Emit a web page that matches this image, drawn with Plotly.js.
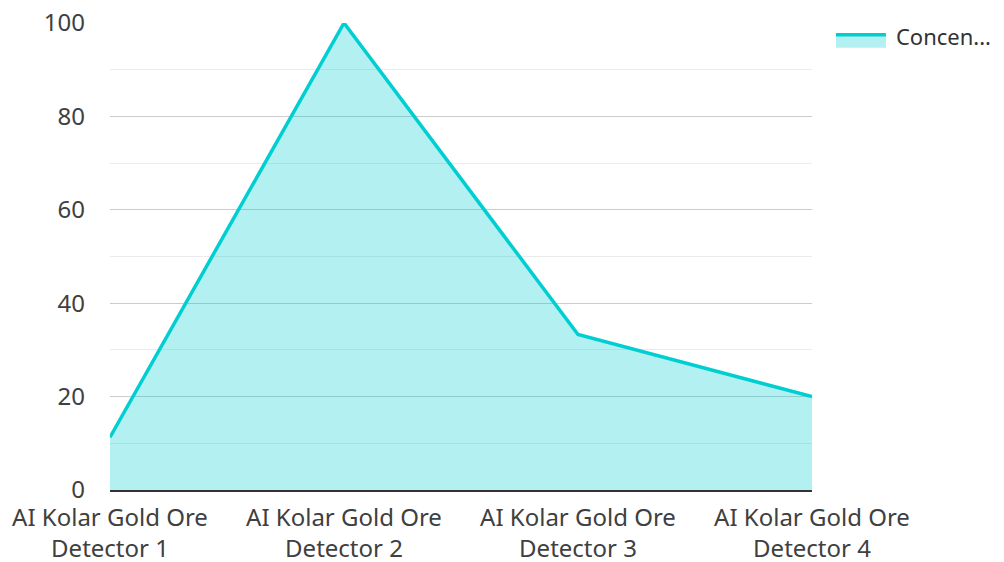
<!DOCTYPE html>
<html>
<head>
<meta charset="utf-8">
<script src="https://cdn.plot.ly/plotly-3.0.1.min.js"></script>
<style>html,body{margin:0;padding:0;background:#fff;}#chart{width:1004px;height:562px;}</style>
</head>
<body>
<div id="chart"></div>
<script>
const categories = ["AI Kolar Gold Ore<br>Detector 1", "AI Kolar Gold Ore<br>Detector 2", "AI Kolar Gold Ore<br>Detector 3", "AI Kolar Gold Ore<br>Detector 4"];
const concentration = [11.3, 100, 33.3, 20];
const seriesName = "Concen...";
const yTicks = [0, 20, 40, 60, 80, 100];

const trace = {
  x: categories,
  y: concentration,
  type: 'scatter',
  mode: 'lines',
  name: seriesName,
  fill: 'tozeroy',
  fillcolor: 'rgba(0,206,209,0.3)',
  line: {color: '#00ced1', width: 3.5},
  cliponaxis: false,
  hoverinfo: 'x+y'
};

const layout = {
  width: 1004,
  height: 562,
  margin: {l: 110, r: 192, t: 23, b: 72, autoexpand: false},
  paper_bgcolor: '#fff',
  plot_bgcolor: '#fff',
  font: {family: 'Noto Sans, Open Sans, sans-serif', size: 24, color: '#404040'},
  showlegend: true,
  legend: {x: 1.027, y: 1.015, xanchor: 'left', yanchor: 'top', itemwidth: 55, font: {size: 22, color: '#333'}, bgcolor: 'rgba(0,0,0,0)'},
  xaxis: {
    type: 'category',
    range: [0, 3],
    showgrid: false,
    zeroline: false,
    showline: true,
    linecolor: '#333',
    linewidth: 2,
    ticks: '',
    ticklabelstandoff: 5,
    fixedrange: true
  },
  yaxis: {
    range: [0, 100],
    tickvals: yTicks,
    ticktext: yTicks.map(String),
    showgrid: true,
    gridcolor: '#cccccc',
    gridwidth: 1,
    minor: {dtick: 10, showgrid: true, gridcolor: '#ebebeb', gridwidth: 1},
    zeroline: false,
    showline: false,
    ticks: '',
    ticklabelstandoff: 24,
    fixedrange: true
  }
};

Plotly.newPlot('chart', [trace], layout, {displayModeBar: false, staticPlot: true}).then(function (gd) {
  // enlarge the legend swatch to match the reference style
  gd.querySelectorAll('.legend .legendfill path').forEach(function (p) {
    p.setAttribute('d', 'M5,-2h50v13h-50z');
  });
  gd.querySelectorAll('.legend .legendlines path').forEach(function (p) {
    p.setAttribute('d', 'M5,-2h50');
  });
});
</script>
</body>
</html>
